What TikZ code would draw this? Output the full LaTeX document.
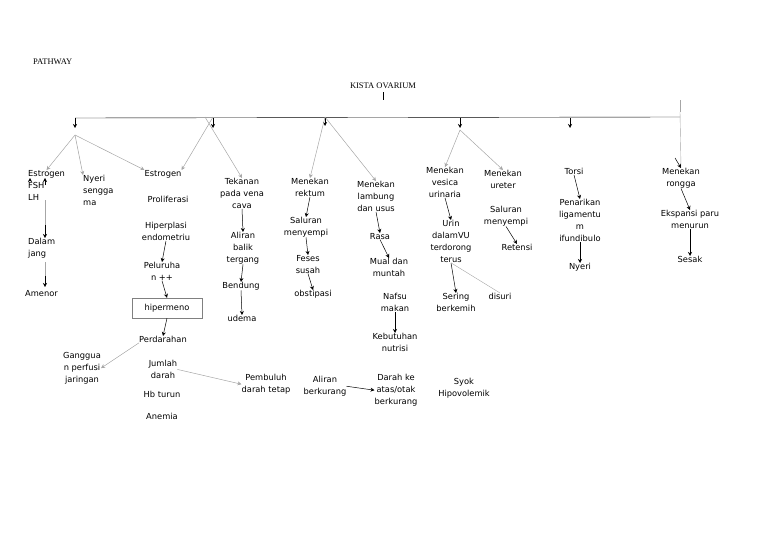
\documentclass[tikz,border=0pt]{standalone}
\usepackage{fontspec}
\setmainfont{DejaVu Sans}
\newfontfamily\serifx{Liberation Serif}
\usetikzlibrary{arrows.meta}
\begin{document}
\begin{tikzpicture}[x=1pt,y=-1pt,
  t/.style={anchor=north,align=center,inner sep=0pt,font=\fontsize{8.3}{12}\selectfont},
  tl/.style={t,anchor=north west,align=left},
  a/.style={-{Stealth[length=4pt,width=4pt]},line width=0.5pt},
  g/.style={a,gray!70}]
\useasboundingbox (0,0) rectangle (768,543);
\node[anchor=west,inner sep=0,font=\serifx\fontsize{8.5}{10}\selectfont] (pw) at (33,62) {PATHWAY};
\node[anchor=center,inner sep=0,font=\serifx\fontsize{8.5}{10}\selectfont] (ko) at (383,86) {KISTA OVARIUM};
\draw (383,92) -- (383,100);
\draw (75,118) -- (680,117);
\coordinate (c1) at (75,135);
\coordinate (c2) at (213,117);
\coordinate (c3) at (325,117);
\coordinate (c4) at (460,130);
\draw[a] (75,118) -- (75,128);
\draw[a] (213,118) -- (213,128);
\draw[a] (325,118) -- (325,126);
\draw[a] (460,118) -- (460,128);
\draw[a] (570,118) -- (570,128);
\draw[gray!70] (680,100) -- (680,112);
% nodes
\node[tl] (e1) at (28,170) {Estrogen\\FSH\\LH};
\node[tl] (ny) at (83,175) {Nyeri\\sengga\\ma};
\node[tl] (dj) at (28,238) {Dalam\\jang};
\node[tl] (am) at (25,290) {Amenor};
\node[t] (es) at (163,170) {Estrogen};
\node[t] (pr) at (168,196) {Proliferasi};
\node[t] (hi) at (166,222) {Hiperplasi\\endometriu};
\node[t] (pe) at (162,262) {Peluruha\\n ++};
\node[t,draw,gray,text=black,minimum width=70pt,minimum height=20pt,anchor=center] (hm) at (167,308) {hipermeno};
\node[t] (pd) at (163,336) {Perdarahan};
\node[t] (jd) at (163,360) {Jumlah\\darah};
\node[t] (hb) at (162,391) {Hb turun};
\node[t] (an) at (162,413) {Anemia};
\node[t] (gp) at (82,352) {Ganggua\\n perfusi\\jaringan};
\node[t] (pb) at (266,374) {Pembuluh\\darah tetap};
\node[t] (tk) at (242,178) {Tekanan\\pada vena\\cava};
\node[t] (al) at (243,232) {Aliran\\balik\\tergang};
\node[t] (bd) at (241,282) {Bendung};
\node[t] (ud) at (242,315) {udema};
\node[t] (mr) at (310,178) {Menekan\\rektum};
\node[t] (sm) at (306,217) {Saluran\\menyempi};
\node[t] (fs) at (308,255) {Feses\\susah};
\node[t] (ob) at (313,290) {obstipasi};
\node[t] (ml) at (376,181) {Menekan\\lambung\\dan usus};
\node[t] (rs) at (380,233) {Rasa};
\node[t] (mu) at (389,258) {Mual dan\\muntah};
\node[t] (nm) at (395,293) {Nafsu\\makan};
\node[t] (kn) at (395,333) {Kebutuhan\\nutrisi};
\node[t] (ab) at (325,376) {Aliran\\berkurang};
\node[t] (dk) at (396,374) {Darah ke\\atas/otak\\berkurang};
\node[t] (sy) at (464,378) {Syok\\Hipovolemik};
\node[t] (vu) at (445,167) {Menekan\\vesica\\urinaria};
\node[t] (ur) at (451,220) {Urin\\dalamVU\\terdorong\\terus};
\node[t] (sb) at (456,293) {Sering\\berkemih};
\node[t] (ds) at (500,293) {disuri};
\node[t] (mt) at (503,170) {Menekan\\ureter};
\node[t] (s2) at (506,206) {Saluran\\menyempi};
\node[t] (rt) at (517,244) {Retensi};
\node[t] (to) at (574,168) {Torsi};
\node[t] (pn) at (580,199) {Penarikan\\ligamentu\\m\\ifundibulo};
\node[t] (n2) at (580,263) {Nyeri};
\node[t] (rg) at (681,168) {Menekan\\rongga};
\node[t] (ek) at (690,210) {Ekspansi paru\\menurun};
\node[t] (ss) at (690,256) {Sesak};
% fans
\draw[g] (c1) -- (e1.north);
\draw[g] (c1) -- (ny.north west);
\draw[g] (c1) -- (es.north west);
\draw[g] (c2) -- (es.north east);
\draw[g] (205,117) -- (tk.north);
\draw[g] (c3) -- (mr.north);
\draw[g] (c3) -- (ml.north);
\draw[g] (c4) -- (vu.north);
\draw[g] (c4) -- (mt.north);
\draw[gray!70] (680,112) -- (rg.north);
\draw[a] (675,158) -- (rg.north);
% chains
\draw[a] (45,185) -- (45,178);
\draw[a] (30,180) -- (30,178);
\draw[gray!70] (45,200) -- (45,225);
\draw[a] (45,225) -- (dj.north -| 45,0);
\draw[gray!70] (45,262) -- (45,276);
\draw[a] (45,276) -- (45,287);
\draw[a] (hi.south) -- (pe.north);
\draw[a] (pe.south) -- (hm.north);
\draw[a] (hm.south) -- (pd.north);
\draw[g] (pd.south west) -- (gp.east);
\draw[g] (jd.east) -- (pb.west);
\draw[a] (tk.south) -- (al.north);
\draw[a] (al.south) -- (bd.north);
\draw[a] (bd.south) -- (ud.north);
\draw[a] (mr.south) -- (sm.north);
\draw[a] (sm.south) -- (fs.north);
\draw[a] (fs.south) -- (ob.north);
\draw[a] (ml.south) -- (rs.north);
\draw[a] (rs.south) -- (mu.north);
\draw[a] (nm.south) -- (kn.north);
\draw[a] (ab.east) -- (dk.west);
\draw[a] (vu.south) -- (ur.north);
\draw[a] (ur.south) -- (sb.north);
\draw[gray!70] (ur.south) -- (ds.north);
\draw[a] (s2.south) -- (rt.north);
\draw[a] (to.south) -- (pn.north);
\draw[a] (pn.south) -- (n2.north);
\draw[a] (rg.south) -- (ek.north);
\draw[a] (ek.south) -- (ss.north);
\end{tikzpicture}
\end{document}
